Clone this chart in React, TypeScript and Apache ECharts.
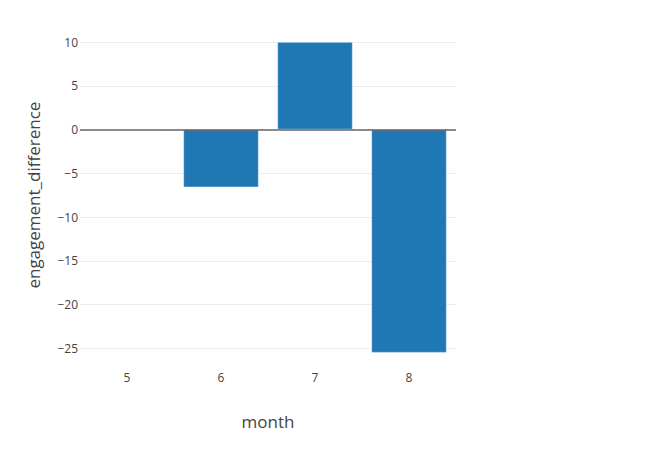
import React, { useEffect, useRef } from "react";
import * as echarts from "echarts";

const months = ["5", "6", "7", "8"];
const engagementDifference = [0, -6.6, 10, -25.5];
const yTickValues = [-25, -20, -15, -10, -5, 0, 5, 10];

const FONT = '"Open Sans", "Noto Sans", sans-serif';

export default function App() {
  const ref = useRef<HTMLDivElement>(null);
  useEffect(() => {
    const chart = echarts.init(ref.current!, null, { renderer: "svg" });
    const fmt = (v: number) => String(v).replace("-", "\u2212");
    chart.setOption({
      animation: false,
      backgroundColor: "#ffffff",
      textStyle: { fontFamily: FONT },
      grid: { left: 80, right: 204, top: 24.5, bottom: 84.25, containLabel: false },
      xAxis: {
        type: "category",
        data: months,
        name: "month",
        nameLocation: "middle",
        nameGap: 47,
        nameTextStyle: { fontFamily: FONT, fontSize: 17, color: "#444" },
        axisLine: { show: false },
        axisTick: { show: false },
        axisLabel: { fontFamily: FONT, fontSize: 12, color: "#444", margin: 6 },
        splitLine: { show: false },
      },
      yAxis: {
        type: "value",
        min: -27,
        max: 12,
        name: "engagement_difference",
        nameLocation: "middle",
        nameGap: 38,
        nameTextStyle: { fontFamily: FONT, fontSize: 17, color: "#444" },
        axisLine: { show: false },
        axisTick: { show: false, customValues: yTickValues },
        axisLabel: {
          fontFamily: FONT,
          fontSize: 12,
          color: "#444",
          margin: 2,
          customValues: yTickValues,
          formatter: fmt,
        },
        splitLine: { show: true, lineStyle: { color: "#ececec", width: 1 } },
      },
      series: [
        {
          type: "bar",
          data: engagementDifference,
          barCategoryGap: "20%",
          itemStyle: { color: "#1f77b4", borderColor: "#ffffff", borderWidth: 0.5 },
          markLine: {
            silent: true,
            symbol: ["none", "none"],
            label: { show: false },
            lineStyle: { color: "#666", width: 1.5, type: "solid" },
            data: [{ yAxis: 0 }],
          },
        },
      ],
    });
    return () => chart.dispose();
  }, []);
  return (
    <div
      ref={ref}
      style={{ position: "fixed", left: 0, top: 0, width: 660, height: 450 }}
    />
  );
}
